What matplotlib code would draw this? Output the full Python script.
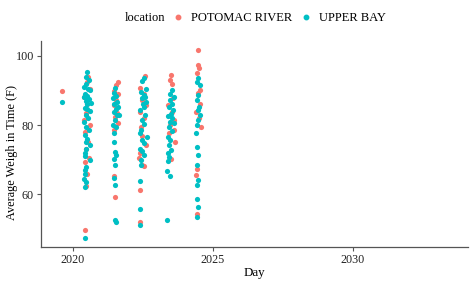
import matplotlib.pyplot as plt
from matplotlib.lines import Line2D

plt.rcParams['font.family'] = ['Liberation Serif', 'DejaVu Serif']

# POTOMAC RIVER (decimal year, average weigh-in temp)
potomac_day = [2019.60,
               2020.55, 2020.50, 2020.62, 2020.40, 2020.52, 2020.45, 2020.38, 2020.60,
               2020.42, 2020.55, 2020.48, 2020.58, 2020.44, 2020.50, 2020.46, 2020.42,
               2021.62, 2021.55, 2021.48, 2021.60, 2021.52, 2021.45, 2021.58, 2021.50,
               2021.62, 2021.47, 2021.45, 2021.50,
               2022.58, 2022.40, 2022.55, 2022.45, 2022.60, 2022.38, 2022.52, 2022.42,
               2022.48, 2022.62, 2022.40, 2022.35, 2022.45, 2022.52, 2022.40, 2022.41,
               2023.50, 2023.45, 2023.52, 2023.58, 2023.40, 2023.55, 2023.62, 2023.48,
               2023.60, 2023.42, 2023.65, 2023.50,
               2024.48, 2024.45, 2024.50, 2024.42, 2024.52, 2024.46, 2024.55, 2024.40,
               2024.50, 2024.56, 2024.44, 2024.38, 2024.42]
potomac_temp = [89.8,
                94.0, 92.5, 90.5, 88.0, 86.0, 83.5, 81.5, 80.0,
                78.0, 75.0, 73.0, 70.5, 69.4, 66.0, 62.5, 49.8,
                92.5, 91.5, 89.9, 88.9, 87.2, 85.8, 83.4, 82.2,
                80.6, 78.5, 65.2, 59.2,
                94.1, 90.8, 89.1, 87.2, 85.7, 83.8, 82.1, 79.5,
                76.9, 74.2, 71.8, 70.5, 68.6, 68.2, 61.2, 52.0,
                94.4, 93.0, 92.0, 87.7, 85.8, 83.8, 81.4, 80.0,
                78.7, 77.6, 75.2, 70.3,
                101.6, 97.3, 96.4, 94.9, 90.1, 89.3, 86.2, 83.8,
                81.9, 79.5, 67.4, 65.5, 54.4]

# UPPER BAY
upper_day = [2019.60,
             2020.52, 2020.45, 2020.58, 2020.48, 2020.40, 2020.55, 2020.62, 2020.44,
             2020.50, 2020.38, 2020.57, 2020.46, 2020.64, 2020.52, 2020.42, 2020.49,
             2020.60, 2020.45, 2020.53, 2020.40, 2020.47, 2020.56, 2020.43, 2020.51,
             2020.45, 2020.62, 2020.48, 2020.42, 2020.44, 2020.60, 2020.46, 2020.42,
             2020.44, 2020.41, 2020.45, 2020.43, 2020.44,
             2021.50, 2021.45, 2021.55, 2021.42, 2021.58, 2021.48, 2021.62, 2021.52,
             2021.45, 2021.58, 2021.66, 2021.50, 2021.43, 2021.55, 2021.46, 2021.48,
             2021.50, 2021.52, 2021.47, 2021.49, 2021.48, 2021.50, 2021.50, 2021.54,
             2022.55, 2022.48, 2022.60, 2022.42, 2022.52, 2022.58, 2022.45, 2022.62,
             2022.50, 2022.55, 2022.40, 2022.57, 2022.46, 2022.53, 2022.43, 2022.38,
             2022.64, 2022.48, 2022.52, 2022.40, 2022.47, 2022.55, 2022.44, 2022.42,
             2022.40, 2022.40, 2022.41,
             2023.55, 2023.48, 2023.60, 2023.45, 2023.52, 2023.42, 2023.58, 2023.50,
             2023.40, 2023.55, 2023.47, 2023.62, 2023.44, 2023.52, 2023.38, 2023.46,
             2023.42, 2023.50, 2023.40, 2023.44, 2023.41, 2023.37, 2023.46, 2023.35,
             2024.48, 2024.44, 2024.52, 2024.46, 2024.42, 2024.50, 2024.45, 2024.53,
             2024.47, 2024.43, 2024.40, 2024.44, 2024.46, 2024.42, 2024.45, 2024.43,
             2024.44, 2024.46, 2024.43]
upper_temp = [86.7,
              95.2, 94.0, 93.0, 92.0, 91.0, 90.5, 90.0, 89.0,
              88.5, 88.0, 87.5, 87.0, 86.5, 86.0, 85.0, 84.5,
              84.0, 83.0, 82.0, 81.0, 79.5, 78.5, 77.0, 76.0,
              75.0, 74.2, 73.0, 72.0, 71.0, 69.8, 68.0, 67.0,
              66.0, 64.5, 63.5, 62.0, 47.4,
              90.6, 89.3, 88.4, 87.7, 86.7, 86.2, 85.3, 84.5,
              83.8, 83.0, 82.9, 81.4, 80.0, 79.5, 77.6, 75.2,
              72.3, 71.3, 70.3, 68.4, 64.6, 62.6, 52.5, 51.9,
              93.5, 92.7, 90.4, 89.6, 88.6, 88.2, 87.7, 86.7,
              86.2, 85.3, 84.3, 82.9, 81.4, 80.4, 78.5, 77.6,
              76.6, 75.6, 74.7, 73.2, 72.5, 71.3, 69.9, 68.4,
              63.8, 55.9, 51.3,
              90.1, 89.1, 88.2, 87.2, 86.2, 85.3, 84.3, 83.3,
              82.6, 81.9, 80.9, 80.5, 79.5, 78.3, 76.6, 75.6,
              74.2, 72.7, 71.8, 70.8, 69.7, 66.8, 65.2, 52.7,
              93.5, 92.5, 91.5, 88.6, 87.2, 85.3, 84.3, 82.9,
              81.4, 80.0, 77.6, 73.7, 71.3, 68.4, 64.1, 62.6,
              58.8, 56.4, 53.5]

x_ticks = [2020, 2025, 2030]
y_ticks = [60, 80, 100]

red = '#F8766D'
teal = '#00BFC4'

fig = plt.figure(figsize=(4.74, 2.82), dpi=100)
ax = fig.add_axes([0.0865, 0.124, 0.9005, 0.731])

ax.scatter(potomac_day, potomac_temp, s=14, color=red, linewidths=0, zorder=3)
ax.scatter(upper_day, upper_temp, s=14, color=teal, linewidths=0, zorder=3)

ax.set_xlim(2018.86, 2034.1)
ax.set_ylim(44.8, 104.3)
ax.set_xticks(x_ticks)
ax.set_yticks(y_ticks)
ax.spines['top'].set_visible(False)
ax.spines['right'].set_visible(False)
for s in ['left', 'bottom']:
    ax.spines[s].set_color('#555555')
    ax.spines[s].set_linewidth(0.9)
ax.tick_params(colors='#555555', length=3, width=0.8, labelsize=8.7,
               labelcolor='#222222', pad=2)

ax.set_xlabel('Day', fontsize=9.4, labelpad=1)
ax.set_ylabel('Average Weigh in Time (F)', fontsize=8.8)
ax.yaxis.set_label_coords(-0.055, 0.46)

fig.text(125 / 474, 1 - 18 / 282, 'location', fontsize=9, va='center', ha='left')
handles = [Line2D([], [], marker='o', ls='', color=red, markersize=3.2),
           Line2D([], [], marker='o', ls='', color=teal, markersize=3.2)]
fig.legend(handles, ['POTOMAC RIVER', 'UPPER BAY'], ncol=2, frameon=False,
           loc='center left', bbox_to_anchor=(170 / 474, 1 - 18 / 282),
           fontsize=9, handlelength=1.2, handletextpad=0.5, columnspacing=0.44,
           borderpad=0, borderaxespad=0)

fig.savefig('out.png', dpi=100)
